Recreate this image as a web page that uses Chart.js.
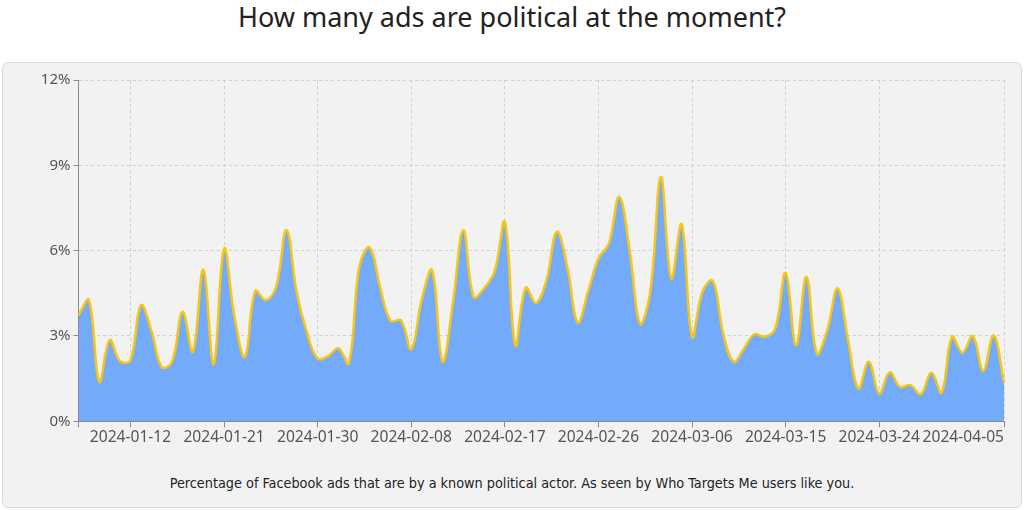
<!DOCTYPE html>
<html>
<head>
<meta charset="utf-8">
<script src="https://cdn.jsdelivr.net/npm/chart.js@4.4.1/dist/chart.umd.min.js"></script>
<style>
  html, body { margin: 0; padding: 0; background: #fff; }
  body { width: 1024px; height: 511px; position: relative; overflow: hidden; font-family: "Noto Sans", sans-serif; }
  h1 { position: absolute; top: -2px; left: 0; width: 1024px; margin: 0; text-align: center;
       font-size: 27px; font-weight: 400; color: #222; line-height: 38px; }
  .card { position: absolute; left: 2px; top: 62px; width: 1018px; height: 444px;
          background: #f2f2f2; border: 1px solid #dcdcdc; border-radius: 6px; }
  .wrap { position: absolute; left: 0; top: 0; width: 1018px; height: 400px; }
  .caption { position: absolute; left: 0; top: 412px; width: 1018px; text-align: center;
             font-family: "Liberation Sans Narrow", "DejaVu Sans Condensed", sans-serif;
             font-size: 14.3px; color: #222; }
</style>
</head>
<body>
<h1>How many ads are political at the moment?</h1>
<div class="card">
  <div class="wrap"><canvas id="politicalChart"></canvas></div>
  <div class="caption">Percentage of Facebook ads that are by a known political actor. As seen by Who Targets Me users like you.</div>
</div>
<script>
var days = [
    '2024-01-07','2024-01-08','2024-01-09','2024-01-10','2024-01-11','2024-01-12','2024-01-13','2024-01-14','2024-01-15','2024-01-16',
    '2024-01-17','2024-01-18','2024-01-19','2024-01-20','2024-01-21','2024-01-22','2024-01-23','2024-01-24','2024-01-25','2024-01-26',
    '2024-01-27','2024-01-28','2024-01-29','2024-01-30','2024-01-31','2024-02-01','2024-02-02','2024-02-03','2024-02-04','2024-02-05',
    '2024-02-06','2024-02-07','2024-02-08','2024-02-09','2024-02-10','2024-02-11','2024-02-12','2024-02-13','2024-02-14','2024-02-15',
    '2024-02-16','2024-02-17','2024-02-18','2024-02-19','2024-02-20','2024-02-21','2024-02-22','2024-02-23','2024-02-24','2024-02-25',
    '2024-02-26','2024-02-27','2024-02-28','2024-02-29','2024-03-01','2024-03-02','2024-03-03','2024-03-04','2024-03-05','2024-03-06',
    '2024-03-07','2024-03-08','2024-03-09','2024-03-10','2024-03-11','2024-03-12','2024-03-13','2024-03-14','2024-03-15','2024-03-16',
    '2024-03-17','2024-03-18','2024-03-19','2024-03-20','2024-03-21','2024-03-22','2024-03-23','2024-03-24','2024-03-25','2024-03-26',
    '2024-03-27','2024-03-28','2024-03-29','2024-03-30','2024-03-31','2024-04-01','2024-04-02','2024-04-03','2024-04-04','2024-04-05'
];

// percent of ads by a known political actor, one per day
var politicalShare = [
    3.73, 4.26, 1.38, 2.85, 2.11, 2.15, 4.08, 3.2, 1.91, 2.09,
    3.85, 2.44, 5.33, 2.0, 6.07, 3.67, 2.26, 4.58, 4.26, 4.72,
    6.72, 4.49, 3.08, 2.2, 2.29, 2.56, 2.03, 5.43, 6.11, 4.72,
    3.53, 3.55, 2.53, 4.26, 5.31, 2.09, 4.14, 6.72, 4.37, 4.67,
    5.25, 7.01, 2.67, 4.69, 4.16, 4.96, 6.66, 5.43, 3.47, 4.55,
    5.72, 6.25, 7.89, 6.0, 3.43, 4.6, 8.59, 5.02, 6.92, 2.97,
    4.55, 4.94, 3.08, 2.09, 2.56, 3.06, 2.97, 3.26, 5.22, 2.67,
    5.08, 2.38, 3.2, 4.67, 2.85, 1.15, 2.09, 0.97, 1.72, 1.21,
    1.27, 0.95, 1.71, 1.01, 2.97, 2.41, 3.0, 1.77, 3.02, 1.38
];

var tickLabels = ['2024-01-12', '2024-01-21', '2024-01-30', '2024-02-08', '2024-02-17',
    '2024-02-26', '2024-03-06', '2024-03-15', '2024-03-24', '2024-04-05'];

var yTicks = [0, 3, 6, 9, 12];

var labelColor = '#555';
var axisColor = '#8a8a8a';
var gridColor = '#cfcfcf';

const ctx = document.getElementById('politicalChart');

new Chart(ctx, {
    type: 'line',
    data: {
        labels: days,
        datasets: [{
            label: 'Political ads',
            data: politicalShare,
            borderColor: '#f5c518',
            borderWidth: 2.5,
            backgroundColor: '#74aafa',
            fill: 'origin',
            tension: 0.4,
            pointRadius: 0
        }]
    },
    options: {
        responsive: true,
        maintainAspectRatio: false,
        animation: false,
        layout: {
            padding: { left: 0, right: 17, top: 17, bottom: 15 }
        },
        plugins: {
            legend: { display: false },
            tooltip: { enabled: false }
        },
        scales: {
            x: {
                offset: false,
                grid: {
                    color: gridColor,
                    tickColor: axisColor,
                    tickLength: 6,
                    drawTicks: true
                },
                border: { display: true, color: axisColor, dash: [3, 3] },
                ticks: {
                    autoSkip: false,
                    maxRotation: 0,
                    align: 'inner',
                    padding: 1,
                    color: labelColor,
                    font: { family: 'Noto Sans', size: 15.6 },
                    callback: function (val, index) {
                        var d = days[index];
                        if (index === 0) return '';   // keeps 'inner' start alignment on the empty first tick
                        return tickLabels.indexOf(d) >= 0 ? d : null;
                    }
                }
            },
            y: {
                min: 0,
                max: 12,
                afterFit: function (scale) { scale.width = 75.5; },
                afterBuildTicks: function (scale) {
                    scale.ticks = yTicks.map(v => ({ value: v }));
                },
                grid: {
                    color: gridColor,
                    tickColor: axisColor,
                    tickLength: 5,
                    drawTicks: true
                },
                border: { display: true, color: axisColor, dash: [3, 3] },
                ticks: {
                    padding: 3,
                    color: labelColor,
                    font: { family: 'Noto Sans', size: 15 },
                    callback: function (val) { return val + '%'; }
                }
            }
        }
    }
});
</script>
</body>
</html>
